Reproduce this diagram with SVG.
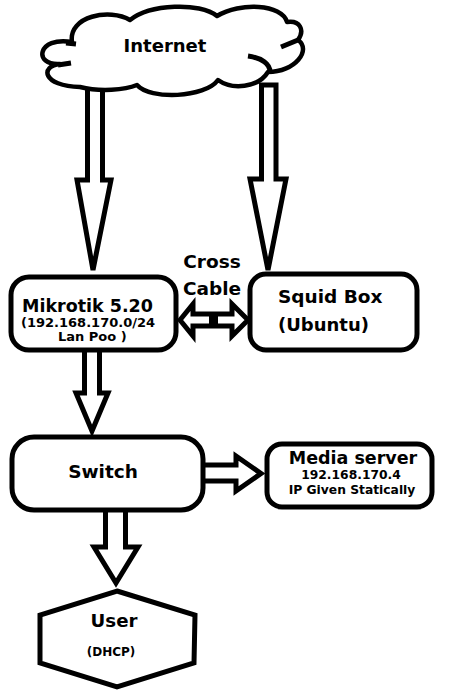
<svg xmlns="http://www.w3.org/2000/svg" width="450" height="694" viewBox="0 0 450 694">
<style>
.ln{fill:none;stroke:#000;stroke-width:5;stroke-linejoin:miter;stroke-linecap:butt}
.ar{fill:#fff;stroke:#000;stroke-width:5;stroke-linejoin:miter}
.bx{fill:#fff;stroke:#000;stroke-width:5}
text{font-family:"DejaVu Sans","Liberation Sans",sans-serif;font-weight:bold;fill:#000}
</style>
<rect x="0" y="0" width="450" height="694" fill="#fff"/>
<g id="connectors">
  <path class="ar" d="M87.5,80 L87.5,180 L77,180 L93,270 L111,180 L102.5,180 L102.5,80"/>
  <path class="ar" d="M261.5,85 L261.5,179 L250,179 L268,270 L286,179 L276,179 L276,85 Z"/>
  <path class="ar" d="M84.5,350 L84.5,393 L76,393 L92,431 L108,393 L99.5,393 L99.5,350"/>
  <path class="ar" d="M105.5,510 L105.5,547 L94,547 L116,583 L138,547 L125.5,547 L125.5,510"/>
  <path class="ar" d="M203,465 L236,465 L236,456 L261,473.5 L236,491 L236,481 L203,481"/>
  <path class="ar" d="M180,320 L193,304 L193,314 L232,314 L232,304 L248,320 L232,336 L232,326 L193,326 L193,336 Z"/>
  <rect x="209" y="314" width="9" height="12" fill="#000"/>
  <text x="212" y="268" font-size="18.5" text-anchor="middle">Cross</text>
  <text x="212" y="295" font-size="18.5" text-anchor="middle">Cable</text>
</g>
<g id="internet">
  <path fill="#fff" stroke="#000" stroke-width="4.5" stroke-linejoin="round" d="M72,42 C37,36 33,66 60,64 C40,66 42,86 80,87 C100,92 125,90 137,85 C150,100 205,98 218,80 C232,90 258,88 268,72 C295,72 312,50 298,40 C305,30 300,20 287,22 C282,4 240,2 217,16 C200,2 150,4 130,20 C110,8 68,16 72,42 Z"/>
  <path class="ln" stroke-width="4.5" d="M66,43 L76,44 M58,65 L71,63 M298,40 L281,47 M248,56 C262,58 270,64 270,72"/>
  <text x="165" y="52" font-size="18" text-anchor="middle">Internet</text>
</g>
<g id="mikrotik">
  <rect class="bx" x="11" y="277" width="165" height="73" rx="18"/>
  <text x="22" y="312" font-size="17.5">Mikrotik 5.20</text>
  <text x="21" y="327" font-size="13">(192.168.170.0/24</text>
  <text x="58" y="341" font-size="13">Lan Poo )</text>
</g>
<g id="squid">
  <rect class="bx" x="250" y="274" width="167" height="76" rx="16"/>
  <text x="278" y="303" font-size="18.5">Squid Box</text>
  <text x="278" y="331" font-size="18">(Ubuntu)</text>
</g>
<g id="switch">
  <rect class="bx" x="12" y="437" width="191" height="73" rx="22"/>
  <text x="103" y="478" font-size="18.5" text-anchor="middle">Switch</text>
</g>
<g id="media">
  <rect class="bx" x="267" y="444" width="165" height="63" rx="15"/>
  <text x="353" y="464" font-size="17.5" text-anchor="middle">Media server</text>
  <text x="351" y="479" font-size="12.3" text-anchor="middle">192.168.170.4</text>
  <text x="352" y="494" font-size="12.3" text-anchor="middle">IP Given Statically</text>
</g>
<g id="user">
  <polygon class="bx" points="117,591 195,615 194,663 117,687 40,663 40,615"/>
  <text x="114" y="627" font-size="18.2" text-anchor="middle">User</text>
  <text x="111" y="656" font-size="12" text-anchor="middle">(DHCP)</text>
</g>
</svg>
